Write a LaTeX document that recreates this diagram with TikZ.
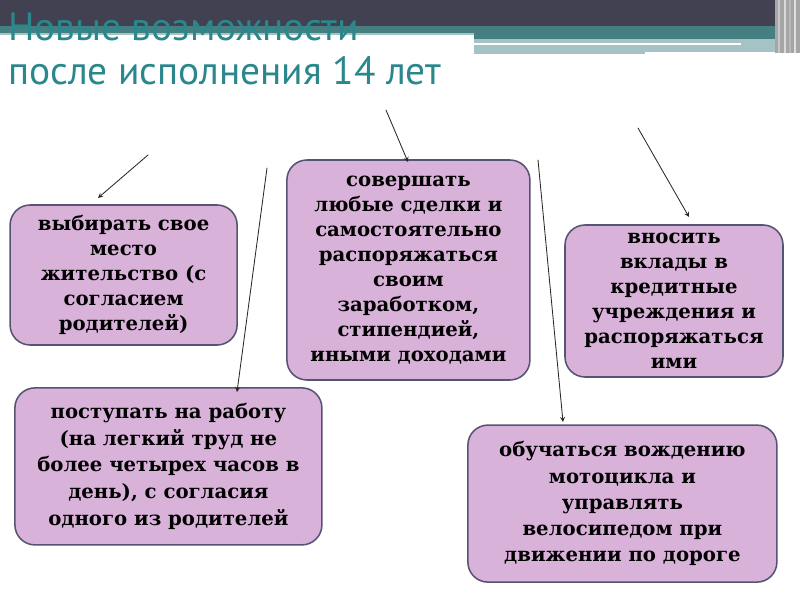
\documentclass[tikz,border=0pt]{standalone}
\usepackage{fontspec}
\setmainfont{DejaVu Serif}
\newfontfamily\titlefont{PT Sans}
\usetikzlibrary{positioning}

\definecolor{headdark}{RGB}{65,65,82}
\definecolor{headteal}{RGB}{69,127,130}
\definecolor{headlight}{RGB}{165,195,197}
\definecolor{titleteal}{RGB}{42,135,140}
\definecolor{boxfill}{RGB}{217,178,217}
\definecolor{boxline}{RGB}{85,85,115}
\definecolor{linkgray}{RGB}{40,40,40}

\begin{document}
\begin{tikzpicture}[line cap=round, line join=round,
  box/.style={draw=boxline, fill=boxfill, line width=1.1pt, rounded corners=0.5cm,
    align=center, inner sep=0pt, font=\bfseries\fontsize{14}{17.8}\selectfont},
  link/.style={->, >=stealth, line width=0.6pt, draw=linkgray}]

\useasboundingbox (0,0) rectangle (20,15);

% Header bars
\fill[headdark] (0,14.35) rectangle (20,15);
\fill[headteal] (0,14.175) rectangle (20,14.35);
\fill[headlight] (0,14.125) rectangle (11.85,14.175);
\fill[headteal] (11.85,14.025) rectangle (19.375,14.175);
\fill[headlight] (11.85,13.65) rectangle (16.125,14.025);
\fill[headlight] (16.125,13.7) rectangle (19.375,14.025);
\fill[white] (11.85,13.875) rectangle (18.525,13.925);

% Stripes on the right
\fill[gray!70] (19.375,13.675) rectangle (20,15);
\foreach \x/\c in {19.45/gray!45, 19.6/gray!30, 19.72/gray!55, 19.85/gray!25}
  \fill[\c] (\x,13.675) rectangle ++(0.06,1.325);

% Title
\node[anchor=base west, text=titleteal, inner sep=0pt, font=\titlefont\fontsize{28}{32}\selectfont]
  (title1) at (0.2,13.98) {Новые возможности};
\node[anchor=base west, text=titleteal, inner sep=0pt, font=\titlefont\fontsize{28}{32}\selectfont]
  (title2) at (0.2,12.88) {после исполнения 14 лет};

% Boxes
\node[box, minimum width=5.675cm, minimum height=3.5cm] (home) at (3.09,8.125)
  {выбирать свое\\место\\жительство (с\\согласием\\родителей)};
\node[box, minimum width=6.075cm, minimum height=5.5cm] (deals) at (10.21,8.25)
  {совершать\\любые сделки и\\самостоятельно\\распоряжаться\\своим\\заработком,\\стипендией,\\иными доходами};
\node[box, minimum width=5.45cm, minimum height=3.8cm] (bank) at (16.85,7.475)
  {вносить\\вклады в\\кредитные\\учреждения и\\распоряжаться\\ими};
\node[box, minimum width=7.675cm, minimum height=3.925cm, font=\bfseries\fontsize{14}{19}\selectfont] (work) at (4.21,3.34)
  {поступать на работу\\(на легкий труд не\\более четырех часов в\\день), с согласия\\одного из родителей};
\node[box, minimum width=7.725cm, minimum height=3.925cm, font=\bfseries\fontsize{14}{18.6}\selectfont] (drive) at (15.56,2.41)
  {обучаться вождению\\мотоцикла и\\управлять\\велосипедом при\\движении по дороге};

% Arrow ends
\coordinate (s1) at (3.7,11.125);   \coordinate (e1) at (2.45,10.05);
\coordinate (s2) at (6.675,10.8);   \coordinate (e2) at (5.925,5.2);
\coordinate (s3) at (9.65,12.25);   \coordinate (e3) at (10.2,10.95);
\coordinate (s4) at (13.45,11.0);   \coordinate (e4) at (14.075,4.45);
\coordinate (s5) at (15.95,11.8);   \coordinate (e5) at (17.225,9.575);

% Arrows
\draw[link] (s1) -- (e1);
\draw[link] (s2) -- (e2);
\draw[link] (s3) -- (e3);
\draw[link] (s4) -- (e4);
\draw[link] (s5) -- (e5);

\end{tikzpicture}
\end{document}
